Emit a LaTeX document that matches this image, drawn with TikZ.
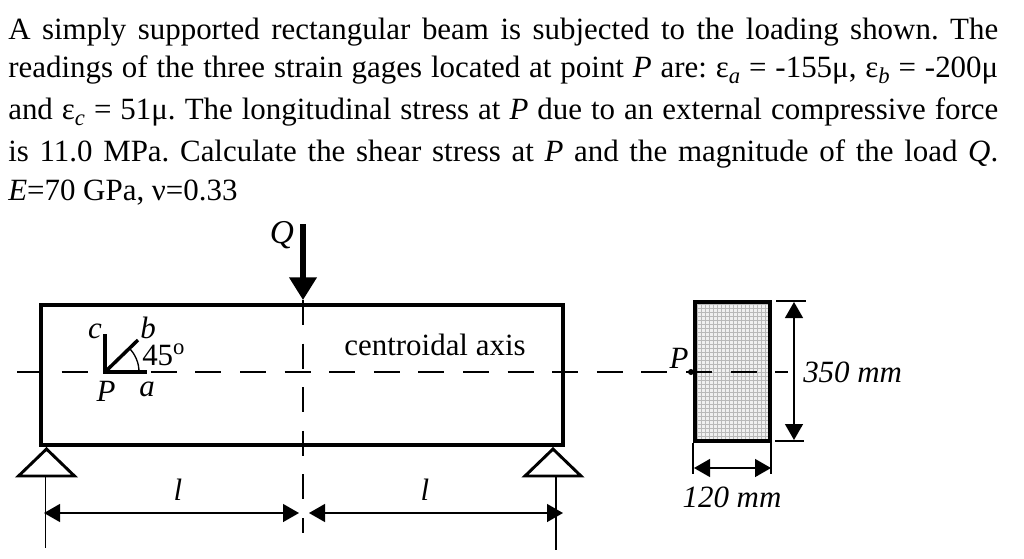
\documentclass[tikz,border=0pt]{standalone}
\usepackage{fontspec}
\setmainfont{Liberation Serif}
\usetikzlibrary{arrows.meta}
\tikzstyle{textline} = [anchor=base west,inner sep=0pt,font=\fontsize{23.2}{27}\selectfont\frenchspacing]
\tikzstyle{label} = [inner sep=0pt,font=\fontsize{23.2}{27}\selectfont]
\tikzstyle{thickline} = [line width=3.4pt]
\tikzstyle{thinline} = [line width=1pt]
\tikzstyle{centerh} = [line width=0.8pt,dash pattern=on 19.5pt off 13.95pt]
\tikzstyle{centerv} = [line width=0.9pt,dash pattern=on 18.7pt off 14pt]
\tikzstyle{dimarrow} = [thinline,{Triangle[length=12pt,width=13.5pt]}-{Triangle[length=12pt,width=13.5pt]}]
\tikzstyle{hatchline} = [gray!55,line width=0.5pt]
\newcommand{\strain}[1]{ε\raisebox{-4.5pt}{\fontsize{17}{17}\selectfont\itshape #1}}
\newcommand{\fullline}[1]{\hbox to 742.5pt{#1}}

\begin{document}
\begin{tikzpicture}[x=0.75pt,y=-0.75pt]
	\useasboundingbox (0,0) rectangle (1024,558);

	\node [textline] (L1) at (8,39) {\fullline{A simply supported rectangular beam is subjected to the loading shown. The}};
	\node [textline] (L2) at (8,77) {\fullline{readings of the three strain gages located at point \textit{P} are: \strain{a} = -155μ, \strain{b} = -200μ}};
	\node [textline] (L3) at (8,119) {\fullline{and \strain{c} = 51μ. The longitudinal stress at \textit{P} due to an external compressive force}};
	\node [textline] (L4) at (8,161) {\fullline{is 11.0 MPa. Calculate the shear stress at \textit{P} and the magnitude of the load \textit{Q}.}};
	\node [textline] (L5) at (8,200) {\textit{E}=70 GPa, ν=0.33};

	\fill [gray!12] (693,301) rectangle (771,442);
	\foreach \x in {697,701,...,769}{
		\draw [hatchline] (\x,301) -- (\x,442);
	}
	\foreach \y in {304,308,...,440}{
		\draw [hatchline] (693,\y) -- (771,\y);
	}
	\draw [centerh] (17,372) -- (788,372);
	\draw [centerv] (303,300) -- (303,533);

	\draw [thickline] (41,305) rectangle (563,445);
	\draw [thickline] (695,302) rectangle (770,441);
	\fill (691,372) circle (3);

	\foreach \i in {46.5,553}{
		\begin{scope}[shift={(\i,0)}]
		\draw [line width=2.2pt,fill=white,miter limit=3] (0,449) -- (28,476) -- (-28,476) -- cycle;
		\end{scope}
	}

	\coordinate (Qtop) at (303,224);
	\coordinate (Qtip) at (303,300);
	\draw [line width=3.8pt,-{Triangle[length=17pt,width=20pt]}] (Qtop) -- (Qtip);
	\node [label,font=\fontsize{25}{27}\selectfont] (Q) at (282,235) {\textit{Q}};

	\coordinate (P) at (105,372);
	\coordinate (gagea) at (147,372);
	\coordinate (gageb) at (138,340);
	\coordinate (gagec) at (105,334);
	\draw [line width=3pt] (gagec) -- (P) -- (gagea);
	\draw [line width=2.6pt] (P) -- (gageb);
	\draw [thinline] (139,372) arc (0:-45:34);
	\node [label] (Pl) at (106,391) {\textit{P}};
	\node [label] (al) at (147,389) {\textit{a}};
	\node [label] (bl) at (148,328) {\textit{b}};
	\node [label] (cl) at (95,331) {\textit{c}};
	\node [label,anchor=west] (angle) at (142,355) {45\raisebox{8pt}{\fontsize{17}{17}\selectfont o}};
	\node [label] (axis) at (435,345) {centroidal axis};

	\coordinate (tickl) at (45.5,548);
	\coordinate (tickr) at (556,550);
	\coordinate (basel) at (45.5,477);
	\coordinate (baser) at (556,477);
	\draw [thinline] (basel) -- (tickl);
	\draw [line width=1.1pt] (baser) -- (tickr);
	\coordinate (dl) at (44,513);
	\coordinate (dm1) at (299,513);
	\coordinate (dm2) at (309,513);
	\coordinate (dr) at (563,513);
	\draw [dimarrow] (dl) -- (dm1);
	\draw [dimarrow] (dm2) -- (dr);
	\node [label] (l1) at (178,490) {\textit{l}};
	\node [label] (l2) at (425,490) {\textit{l}};

	\coordinate (hl) at (694,468);
	\coordinate (hr) at (771,468);
	\draw [dimarrow] (hl) -- (hr);
	\draw [thinline] (693,443) -- (693,474);
	\draw [thinline] (771,443) -- (771,474);
	\node [label] (w) at (732,497) {\textit{120 mm}};

	\coordinate (vt) at (794,302);
	\coordinate (vb) at (794,440);
	\draw [dimarrow] (vt) -- (vb);
	\draw [thinline] (776,301) -- (806,301);
	\draw [thinline] (775,441) -- (804,441);
	\node [label,anchor=west] (h) at (803,372) {\textit{350 mm}};
	\node [label] (Pr) at (679,358) {\textit{P}};
\end{tikzpicture}
\end{document}
